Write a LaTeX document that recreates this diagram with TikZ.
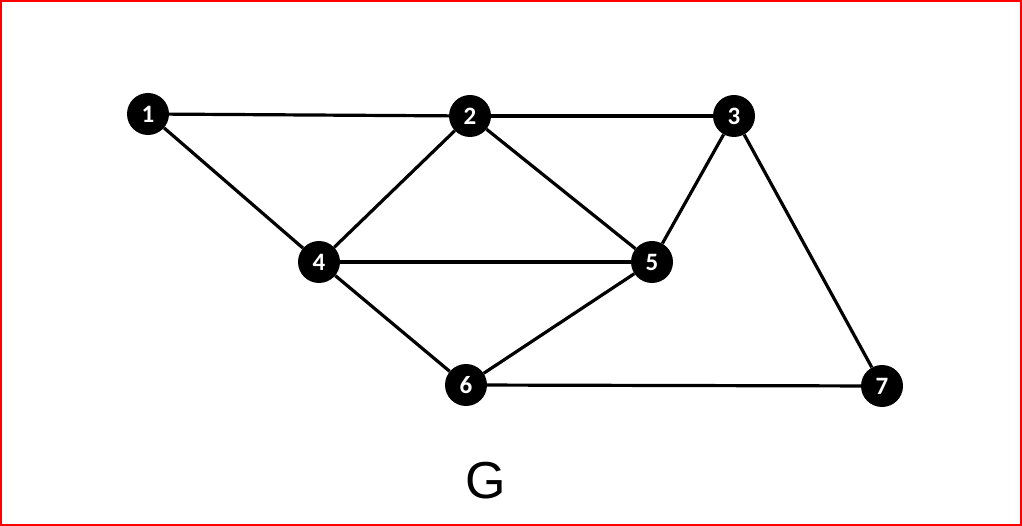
\documentclass[tikz,border=0pt]{standalone}
\usepackage{fontspec}
\setmainfont{Liberation Sans}
\newfontfamily\lblfont{Carlito}
\begin{document}
\begin{tikzpicture}[x=1pt,y=-1pt,
  vtx/.style={circle,fill=black,minimum size=42pt,inner sep=0pt,text=white,font=\lblfont\fontsize{25}{25}\selectfont\bfseries},
  edge/.style={line width=3.2pt,black}]
\useasboundingbox (0,0) rectangle (1022,526);
\draw[red,line width=2pt] (1,1) rectangle (1021,525);
\node[vtx] (n1) at (148,114) {1};
\node[vtx] (n2) at (470,116) {2};
\node[vtx] (n3) at (734,116) {3};
\node[vtx] (n4) at (319,262) {4};
\node[vtx] (n5) at (652,262) {5};
\node[vtx] (n6) at (466,385) {6};
\node[vtx] (n7) at (882,386) {7};
\draw[edge] (n1) -- (n2);
\draw[edge] (n2) -- (n3);
\draw[edge] (n1) -- (n4);
\draw[edge] (n2) -- (n4);
\draw[edge] (n2) -- (n5);
\draw[edge] (n3) -- (n5);
\draw[edge] (n3) -- (n7);
\draw[edge] (n4) -- (n5);
\draw[edge] (n4) -- (n6);
\draw[edge] (n5) -- (n6);
\draw[edge] (n6) -- (n7);
\node (g) at (486,481) {\fontsize{52}{52}\selectfont G};
\end{tikzpicture}
\end{document}
